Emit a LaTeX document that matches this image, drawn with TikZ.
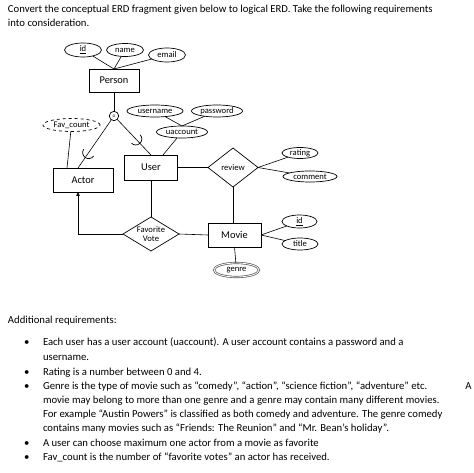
\documentclass[tikz,border=0pt]{standalone}
\usepackage{fontspec}
\setmainfont{Carlito}
\usetikzlibrary{shapes.geometric,arrows.meta,calc}
\begin{document}
\begin{tikzpicture}[x=1pt,y=-1pt,
  every node/.style={inner sep=0pt, outer sep=0pt},
  ent/.style={draw, rectangle, line width=0.7pt, font=\fontsize{10.4}{12}\selectfont},
  attr/.style={draw, ellipse, line width=0.7pt, font=\fontsize{8.6}{10}\selectfont},
  rel/.style={draw, diamond, line width=0.7pt, align=center, font=\fontsize{8.6}{9.2}\selectfont},
  conn/.style={line width=0.6pt},
  txt/.style={anchor=base west, font=\fontsize{10.7}{13}\selectfont},
  bul/.style={anchor=base, font=\fontsize{10.7}{13}\selectfont}
]
\useasboundingbox (0,0) rectangle (474,473);

% texts
\node[txt] (t1) at (8,12.7) {Convert the conceptual ERD fragment given below to logical ERD. Take the following requirements};
\node[txt] (t2) at (8,26.5) {into consideration.};
\node[txt] (t3) at (8,323.3) {Additional requirements:};
\node[bul] (b1) at (26.7,345.5) {•};
\node[txt] (l1) at (43,345.5) {Each user has a user account (uaccount). A user account contains a password and a};
\node[txt] (l2) at (43,360) {username.};
\node[bul] (b2) at (26.7,375) {•};
\node[txt] (l3) at (43,375) {Rating is a number between 0 and 4.};
\node[bul] (b3) at (26.7,389.5) {•};
\node[txt] (l4) at (43,389.5) {Genre is the type of movie such as “comedy”, “action”, “science fiction”, “adventure” etc.\hspace{38pt}A};
\node[txt] (l5) at (43,403.5) {movie may belong to more than one genre and a genre may contain many different movies.};
\node[txt] (l6) at (43,417.5) {For example “Austin Powers” is classified as both comedy and adventure. The genre comedy};
\node[txt] (l7) at (43,431.5) {contains many movies such as “Friends: The Reunion” and “Mr. Bean’s holiday”.};
\node[bul] (b4) at (26.7,446) {•};
\node[txt] (l8) at (43,446) {A user can choose maximum one actor from a movie as favorite};
\node[bul] (b5) at (26.7,460.5) {•};
\node[txt] (l9) at (43,460.5) {Fav\_count is the number of “favorite votes” an actor has received.};

% entities
\node[ent, minimum width=50pt, minimum height=23pt] (person) at (114,80.5) {Person};
\node[ent, minimum width=60pt, minimum height=24pt] (actor) at (83,180) {Actor};
\node[ent, minimum width=53pt, minimum height=25pt] (user) at (151,167.5) {User};
\node[ent, minimum width=53pt, minimum height=24pt] (movie) at (234.5,235) {Movie};

% attributes
\node[attr, minimum width=37pt, minimum height=14pt] (pid) at (83,50) {\underline{id}};
\node[attr, minimum width=37pt, minimum height=13pt] (pname) at (125,50) {name};
\node[attr, minimum width=37pt, minimum height=14pt] (pemail) at (167,55) {email};
\node[attr, dashed, minimum width=57pt, minimum height=13pt] (fav) at (71.5,125) {Fav\_count};
\node[attr, minimum width=56pt, minimum height=12pt] (uname) at (155,111) {username};
\node[attr, minimum width=51pt, minimum height=12pt] (pwd) at (217,111) {password};
\node[attr, minimum width=51pt, minimum height=12pt] (uacc) at (182,132) {uaccount};
\node[attr, minimum width=36pt, minimum height=11pt] (rating) at (300,153) {rating};
\node[attr, minimum width=54pt, minimum height=11pt] (comment) at (310,176.5) {comment};
\node[attr, minimum width=35pt, minimum height=13pt] (mid) at (299.5,221.5) {\underline{id}};
\node[attr, minimum width=36pt, minimum height=12pt] (mtitle) at (300,244) {title};
\node[attr, double, double distance=0.8pt, draw=black!65, minimum width=45pt, minimum height=14pt] (genre) at (236.5,270) {genre};

% relationships
\node[rel, minimum width=50pt, minimum height=39pt] (review) at (233,167.5) {review};
\node[rel, aspect=1.65, minimum width=56pt, minimum height=34pt] (fv) at (151,234) {Favorite\\Vote};

% specialization circle
\node[draw, circle, line width=0.7pt, minimum size=9.4pt, font=\fontsize{5}{5}\selectfont] (circ) at (114,116) {o};

% connectors
\draw[conn] (pid) -- (person.north);
\draw[conn] (pname) -- (person.north);
\draw[conn] (pemail) -- (person.north);
\draw[conn] (person.south) -- (circ);
\coordinate (atop) at ([xshift=-5pt]actor.north);
\coordinate (utop) at (user.north);
\draw[conn] (circ) -- (atop);
\draw[conn] (circ) -- (utop);
\path (circ) -- (atop) coordinate[pos=0.68] (pa);
\path (circ) -- (utop) coordinate[pos=0.55] (pu);
\draw[conn, line width=0.7pt] let \p1=($(atop)-(circ)$), \n1={atan2(\y1,\x1)} in
  ($(pa)+(\n1+90:6pt)$) arc[start angle=\n1+90, delta angle=-180, radius=6pt];
\draw[conn, line width=0.7pt] let \p1=($(utop)-(circ)$), \n1={atan2(\y1,\x1)} in
  ($(pu)+(\n1+90:6pt)$) arc[start angle=\n1+90, delta angle=-180, radius=6pt];
\draw[conn] (fav) -- ([xshift=-16pt]actor.north);
\draw[conn] (uname) -- (uacc.north);
\draw[conn] (pwd) -- (uacc.north);
\draw[conn] (uacc) -- ([xshift=12pt]user.north);
\draw[conn] (user.east) -- (review.west);
\draw[conn] (review.east) -- (rating);
\draw[conn] (review.east) -- (comment);
\draw[conn] (review.south) -- (review.south |- movie.north);
\draw[conn] (user.south) -- (fv.north);
\draw[conn] (fv.east) -- (movie.west);
\draw[conn, -{Triangle[length=4pt,width=3.5pt]}] (fv.west) -| ([xshift=-5pt]actor.south);
\draw[conn] (movie.east) -- (mid);
\draw[conn] (movie.east) -- (mtitle);
\draw[conn] (movie.south) -- (genre);
\end{tikzpicture}
\end{document}
